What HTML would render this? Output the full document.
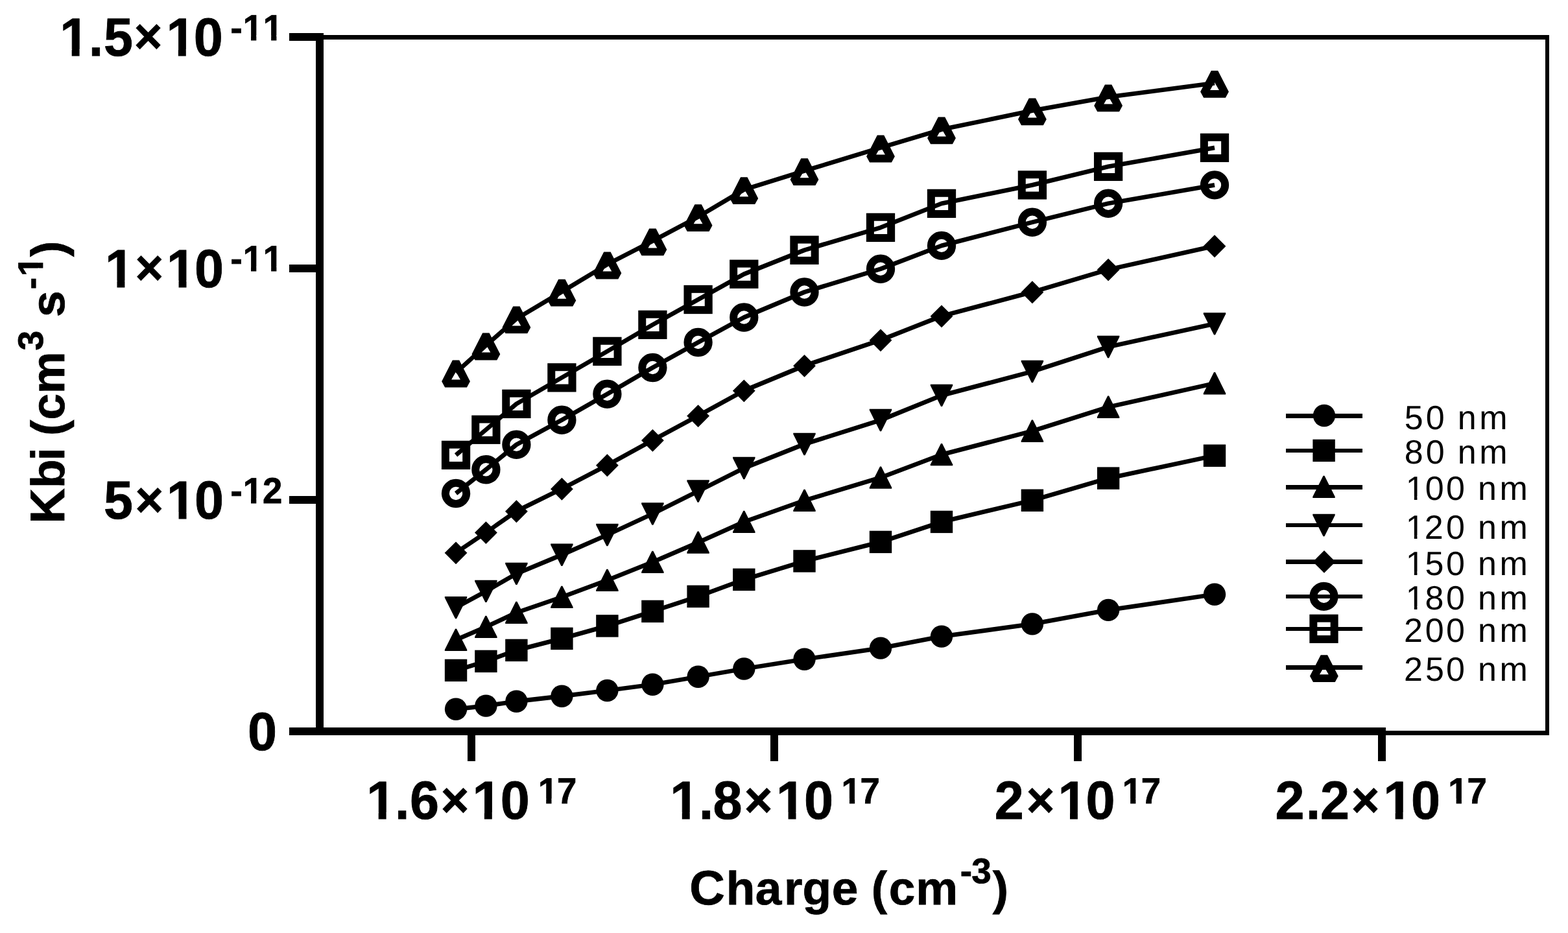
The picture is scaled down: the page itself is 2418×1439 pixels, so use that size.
<!DOCTYPE html>
<html lang="en">
<head>
<meta charset="utf-8">
<title>Kbi vs Charge</title>
<style>
html,body{margin:0;padding:0;background:#fff;}
body{width:2418px;height:1439px;overflow:hidden;}
svg{display:block;}
text{font-family:"Liberation Sans",sans-serif;fill:#000;font-kerning:none;white-space:pre;text-rendering:geometricPrecision;}
.b{font-weight:bold;stroke:#000;stroke-width:0.8;stroke-linejoin:miter;}
.ax{shape-rendering:crispEdges;}
.ln{fill:none;stroke:#000;stroke-width:6.8;stroke-linejoin:round;}
.o{fill:none;stroke:#000;stroke-width:12;stroke-linejoin:miter;}
</style>
</head>
<body>
<svg width="2418" height="1439" viewBox="0 0 2418 1439">
<rect width="2418" height="1439" fill="#fff"/>
<g class="ax" fill="#000">
<rect x="487" y="54" width="1902" height="7"/>
<rect x="2383" y="54" width="6" height="1080"/>
<rect x="487" y="1127" width="1902" height="7"/>
<rect x="487" y="51" width="12" height="1083"/>
<rect x="446" y="1122" width="1691" height="12"/>
<rect x="446" y="51" width="42" height="12"/>
<rect x="446" y="408" width="42" height="12"/>
<rect x="446" y="765" width="42" height="12"/>
<rect x="721" y="1133" width="12" height="41"/>
<rect x="1188" y="1133" width="12" height="41"/>
<rect x="1656" y="1133" width="12" height="41"/>
<rect x="2125" y="1133" width="12" height="41"/>
</g>
<g>
<polyline class="ln" points="703.05,1093.75 749.4,1088.6 796.4,1081.75 866.4,1073.75 936.4,1065 1006.4,1055.75 1076.6,1043.75 1147.3,1031.5 1240.5,1016.75 1358,999.6 1452,981.6 1591.9,962.4 1709.1,940.9 1873,916.75"/>
<circle cx="703.05" cy="1093.75" r="17.2"/>
<circle cx="749.4" cy="1088.6" r="17.2"/>
<circle cx="796.4" cy="1081.75" r="17.2"/>
<circle cx="866.4" cy="1073.75" r="17.2"/>
<circle cx="936.4" cy="1065" r="17.2"/>
<circle cx="1006.4" cy="1055.75" r="17.2"/>
<circle cx="1076.6" cy="1043.75" r="17.2"/>
<circle cx="1147.3" cy="1031.5" r="17.2"/>
<circle cx="1240.5" cy="1016.75" r="17.2"/>
<circle cx="1358" cy="999.6" r="17.2"/>
<circle cx="1452" cy="981.6" r="17.2"/>
<circle cx="1591.9" cy="962.4" r="17.2"/>
<circle cx="1709.1" cy="940.9" r="17.2"/>
<circle cx="1873" cy="916.75" r="17.2"/>
</g>
<g>
<polyline class="ln" points="703.05,1033.9 749.4,1019.9 796.4,1002.9 866.4,984.9 936.4,965.4 1006.4,942.9 1076.6,919.9 1147.3,893.9 1240.5,865.4 1358,835.9 1452,804.9 1591.9,771.75 1709.1,737.6 1873,702.75"/>
<rect x="685.85" y="1016.7" width="34.4" height="34.4"/>
<rect x="732.2" y="1002.7" width="34.4" height="34.4"/>
<rect x="779.2" y="985.7" width="34.4" height="34.4"/>
<rect x="849.2" y="967.7" width="34.4" height="34.4"/>
<rect x="919.2" y="948.2" width="34.4" height="34.4"/>
<rect x="989.2" y="925.7" width="34.4" height="34.4"/>
<rect x="1059.4" y="902.7" width="34.4" height="34.4"/>
<rect x="1130.1" y="876.7" width="34.4" height="34.4"/>
<rect x="1223.3" y="848.2" width="34.4" height="34.4"/>
<rect x="1340.8" y="818.7" width="34.4" height="34.4"/>
<rect x="1434.8" y="787.7" width="34.4" height="34.4"/>
<rect x="1574.7" y="754.55" width="34.4" height="34.4"/>
<rect x="1691.9" y="720.4" width="34.4" height="34.4"/>
<rect x="1855.8" y="685.55" width="34.4" height="34.4"/>
</g>
<g>
<polyline class="ln" points="703.05,986.9 749.4,966.9 796.4,944.9 866.4,920.9 936.4,894.9 1006.4,866.9 1076.6,836.6 1147.3,804.9 1240.5,771.9 1358,736.6 1452,701.1 1591.9,664.75 1709.1,627.75 1873,591.25"/>
<polygon points="702.05,969.7 704.05,969.7 720.25,1002.1 720.25,1004.1 685.85,1004.1 685.85,1002.1"/>
<polygon points="748.4,949.7 750.4,949.7 766.6,982.1 766.6,984.1 732.2,984.1 732.2,982.1"/>
<polygon points="795.4,927.7 797.4,927.7 813.6,960.1 813.6,962.1 779.2,962.1 779.2,960.1"/>
<polygon points="865.4,903.7 867.4,903.7 883.6,936.1 883.6,938.1 849.2,938.1 849.2,936.1"/>
<polygon points="935.4,877.7 937.4,877.7 953.6,910.1 953.6,912.1 919.2,912.1 919.2,910.1"/>
<polygon points="1005.4,849.7 1007.4,849.7 1023.6,882.1 1023.6,884.1 989.2,884.1 989.2,882.1"/>
<polygon points="1075.6,819.4 1077.6,819.4 1093.8,851.8 1093.8,853.8 1059.4,853.8 1059.4,851.8"/>
<polygon points="1146.3,787.7 1148.3,787.7 1164.5,820.1 1164.5,822.1 1130.1,822.1 1130.1,820.1"/>
<polygon points="1239.5,754.7 1241.5,754.7 1257.7,787.1 1257.7,789.1 1223.3,789.1 1223.3,787.1"/>
<polygon points="1357,719.4 1359,719.4 1375.2,751.8 1375.2,753.8 1340.8,753.8 1340.8,751.8"/>
<polygon points="1451,683.9 1453,683.9 1469.2,716.3 1469.2,718.3 1434.8,718.3 1434.8,716.3"/>
<polygon points="1590.9,647.55 1592.9,647.55 1609.1,679.95 1609.1,681.95 1574.7,681.95 1574.7,679.95"/>
<polygon points="1708.1,610.55 1710.1,610.55 1726.3,642.95 1726.3,644.95 1691.9,644.95 1691.9,642.95"/>
<polygon points="1872,574.05 1874,574.05 1890.2,606.45 1890.2,608.45 1855.8,608.45 1855.8,606.45"/>
</g>
<g>
<polyline class="ln" points="703.05,937.1 749.4,911.9 796.4,884.9 866.4,855.75 936.4,825 1006.4,792.5 1076.6,757.5 1147.3,722 1240.5,685 1358,648 1452,609.9 1591.9,573 1709.1,535 1873,499.4"/>
<polygon points="685.85,919.9 720.25,919.9 720.25,921.9 704.05,954.3 702.05,954.3 685.85,921.9"/>
<polygon points="732.2,894.7 766.6,894.7 766.6,896.7 750.4,929.1 748.4,929.1 732.2,896.7"/>
<polygon points="779.2,867.7 813.6,867.7 813.6,869.7 797.4,902.1 795.4,902.1 779.2,869.7"/>
<polygon points="849.2,838.55 883.6,838.55 883.6,840.55 867.4,872.95 865.4,872.95 849.2,840.55"/>
<polygon points="919.2,807.8 953.6,807.8 953.6,809.8 937.4,842.2 935.4,842.2 919.2,809.8"/>
<polygon points="989.2,775.3 1023.6,775.3 1023.6,777.3 1007.4,809.7 1005.4,809.7 989.2,777.3"/>
<polygon points="1059.4,740.3 1093.8,740.3 1093.8,742.3 1077.6,774.7 1075.6,774.7 1059.4,742.3"/>
<polygon points="1130.1,704.8 1164.5,704.8 1164.5,706.8 1148.3,739.2 1146.3,739.2 1130.1,706.8"/>
<polygon points="1223.3,667.8 1257.7,667.8 1257.7,669.8 1241.5,702.2 1239.5,702.2 1223.3,669.8"/>
<polygon points="1340.8,630.8 1375.2,630.8 1375.2,632.8 1359,665.2 1357,665.2 1340.8,632.8"/>
<polygon points="1434.8,592.7 1469.2,592.7 1469.2,594.7 1453,627.1 1451,627.1 1434.8,594.7"/>
<polygon points="1574.7,555.8 1609.1,555.8 1609.1,557.8 1592.9,590.2 1590.9,590.2 1574.7,557.8"/>
<polygon points="1691.9,517.8 1726.3,517.8 1726.3,519.8 1710.1,552.2 1708.1,552.2 1691.9,519.8"/>
<polygon points="1855.8,482.2 1890.2,482.2 1890.2,484.2 1874,516.6 1872,516.6 1855.8,484.2"/>
</g>
<g>
<polyline class="ln" points="703.05,852.5 749.4,821.25 796.4,788.4 866.4,753.9 936.4,717.4 1006.4,679 1076.6,641.25 1147.3,602.5 1240.5,564 1358,524.5 1452,487.5 1591.9,450.4 1709.1,415.75 1873,379.4"/>
<polygon points="703.05,835.45 720.45,852.85 703.05,870.25 685.65,852.85"/>
<polygon points="749.4,804.2 766.8,821.6 749.4,839 732,821.6"/>
<polygon points="796.4,771.35 813.8,788.75 796.4,806.15 779,788.75"/>
<polygon points="866.4,736.85 883.8,754.25 866.4,771.65 849,754.25"/>
<polygon points="936.4,700.35 953.8,717.75 936.4,735.15 919,717.75"/>
<polygon points="1006.4,661.95 1023.8,679.35 1006.4,696.75 989,679.35"/>
<polygon points="1076.6,624.2 1094,641.6 1076.6,659 1059.2,641.6"/>
<polygon points="1147.3,585.45 1164.7,602.85 1147.3,620.25 1129.9,602.85"/>
<polygon points="1240.5,546.95 1257.9,564.35 1240.5,581.75 1223.1,564.35"/>
<polygon points="1358,507.45 1375.4,524.85 1358,542.25 1340.6,524.85"/>
<polygon points="1452,470.45 1469.4,487.85 1452,505.25 1434.6,487.85"/>
<polygon points="1591.9,433.35 1609.3,450.75 1591.9,468.15 1574.5,450.75"/>
<polygon points="1709.1,398.7 1726.5,416.1 1709.1,433.5 1691.7,416.1"/>
<polygon points="1873,362.35 1890.4,379.75 1873,397.15 1855.6,379.75"/>
</g>
<g>
<polyline class="ln" points="703.05,761 749.4,724.25 796.4,685.75 866.4,647.75 936.4,607.75 1006.4,567 1076.6,528 1147.3,489.5 1240.5,450.5 1358,414.75 1452,378.9 1591.9,342.75 1709.1,313.75 1873,285.4"/>
<circle class="o" cx="703.05" cy="761" r="16.15"/>
<circle class="o" cx="749.4" cy="724.25" r="16.15"/>
<circle class="o" cx="796.4" cy="685.75" r="16.15"/>
<circle class="o" cx="866.4" cy="647.75" r="16.15"/>
<circle class="o" cx="936.4" cy="607.75" r="16.15"/>
<circle class="o" cx="1006.4" cy="567" r="16.15"/>
<circle class="o" cx="1076.6" cy="528" r="16.15"/>
<circle class="o" cx="1147.3" cy="489.5" r="16.15"/>
<circle class="o" cx="1240.5" cy="450.5" r="16.15"/>
<circle class="o" cx="1358" cy="414.75" r="16.15"/>
<circle class="o" cx="1452" cy="378.9" r="16.15"/>
<circle class="o" cx="1591.9" cy="342.75" r="16.15"/>
<circle class="o" cx="1709.1" cy="313.75" r="16.15"/>
<circle class="o" cx="1873" cy="285.4" r="16.15"/>
</g>
<g>
<polyline class="ln" points="703.05,701.9 749.4,662.75 796.4,622.9 866.4,582.4 936.4,541.9 1006.4,500.9 1076.6,462 1147.3,422.75 1240.5,385.75 1358,350.9 1452,313.9 1591.9,285.4 1709.1,256.9 1873,227.9"/>
<rect class="o" x="686.9" y="685.75" width="32.3" height="32.3"/>
<rect class="o" x="733.25" y="646.6" width="32.3" height="32.3"/>
<rect class="o" x="780.25" y="606.75" width="32.3" height="32.3"/>
<rect class="o" x="850.25" y="566.25" width="32.3" height="32.3"/>
<rect class="o" x="920.25" y="525.75" width="32.3" height="32.3"/>
<rect class="o" x="990.25" y="484.75" width="32.3" height="32.3"/>
<rect class="o" x="1060.45" y="445.85" width="32.3" height="32.3"/>
<rect class="o" x="1131.15" y="406.6" width="32.3" height="32.3"/>
<rect class="o" x="1224.35" y="369.6" width="32.3" height="32.3"/>
<rect class="o" x="1341.85" y="334.75" width="32.3" height="32.3"/>
<rect class="o" x="1435.85" y="297.75" width="32.3" height="32.3"/>
<rect class="o" x="1575.75" y="269.25" width="32.3" height="32.3"/>
<rect class="o" x="1692.95" y="240.75" width="32.3" height="32.3"/>
<rect class="o" x="1856.85" y="211.75" width="32.3" height="32.3"/>
</g>
<g>
<polyline class="ln" points="703.05,574.8 749.4,532.8 796.4,491.7 866.4,450 936.4,407.8 1006.4,371.7 1076.6,334.4 1147.3,292.5 1240.5,263.5 1358,227.8 1452,199.7 1591.9,170.7 1709.1,149.7 1873,128.2"/>
<path fill-rule="evenodd" d="M697.85 555.6 L708.25 555.6 L724.95 588.2 L719.95 597.4 L686.15 597.4 L681.15 588.2Z M703.05 573.6 L709.95 585.6 L696.15 585.6Z"/>
<path fill-rule="evenodd" d="M744.2 513.6 L754.6 513.6 L771.3 546.2 L766.3 555.4 L732.5 555.4 L727.5 546.2Z M749.4 531.6 L756.3 543.6 L742.5 543.6Z"/>
<path fill-rule="evenodd" d="M791.2 472.5 L801.6 472.5 L818.3 505.1 L813.3 514.3 L779.5 514.3 L774.5 505.1Z M796.4 490.5 L803.3 502.5 L789.5 502.5Z"/>
<path fill-rule="evenodd" d="M861.2 430.8 L871.6 430.8 L888.3 463.4 L883.3 472.6 L849.5 472.6 L844.5 463.4Z M866.4 448.8 L873.3 460.8 L859.5 460.8Z"/>
<path fill-rule="evenodd" d="M931.2 388.6 L941.6 388.6 L958.3 421.2 L953.3 430.4 L919.5 430.4 L914.5 421.2Z M936.4 406.6 L943.3 418.6 L929.5 418.6Z"/>
<path fill-rule="evenodd" d="M1001.2 352.5 L1011.6 352.5 L1028.3 385.1 L1023.3 394.3 L989.5 394.3 L984.5 385.1Z M1006.4 370.5 L1013.3 382.5 L999.5 382.5Z"/>
<path fill-rule="evenodd" d="M1071.4 315.2 L1081.8 315.2 L1098.5 347.8 L1093.5 357 L1059.7 357 L1054.7 347.8Z M1076.6 333.2 L1083.5 345.2 L1069.7 345.2Z"/>
<path fill-rule="evenodd" d="M1142.1 273.3 L1152.5 273.3 L1169.2 305.9 L1164.2 315.1 L1130.4 315.1 L1125.4 305.9Z M1147.3 291.3 L1154.2 303.3 L1140.4 303.3Z"/>
<path fill-rule="evenodd" d="M1235.3 244.3 L1245.7 244.3 L1262.4 276.9 L1257.4 286.1 L1223.6 286.1 L1218.6 276.9Z M1240.5 262.3 L1247.4 274.3 L1233.6 274.3Z"/>
<path fill-rule="evenodd" d="M1352.8 208.6 L1363.2 208.6 L1379.9 241.2 L1374.9 250.4 L1341.1 250.4 L1336.1 241.2Z M1358 226.6 L1364.9 238.6 L1351.1 238.6Z"/>
<path fill-rule="evenodd" d="M1446.8 180.5 L1457.2 180.5 L1473.9 213.1 L1468.9 222.3 L1435.1 222.3 L1430.1 213.1Z M1452 198.5 L1458.9 210.5 L1445.1 210.5Z"/>
<path fill-rule="evenodd" d="M1586.7 151.5 L1597.1 151.5 L1613.8 184.1 L1608.8 193.3 L1575 193.3 L1570 184.1Z M1591.9 169.5 L1598.8 181.5 L1585 181.5Z"/>
<path fill-rule="evenodd" d="M1703.9 130.5 L1714.3 130.5 L1731 163.1 L1726 172.3 L1692.2 172.3 L1687.2 163.1Z M1709.1 148.5 L1716 160.5 L1702.2 160.5Z"/>
<path fill-rule="evenodd" d="M1867.8 109 L1878.2 109 L1894.9 141.6 L1889.9 150.8 L1856.1 150.8 L1851.1 141.6Z M1873 127 L1879.9 139 L1866.1 139Z"/>
</g>
<g>
<rect class="ax" x="1983" y="638" width="118" height="7"/>
<circle cx="2042" cy="641" r="17.2"/>
<rect class="ax" x="1983" y="692" width="118" height="6"/>
<rect x="2024.4" y="677.7" width="34.4" height="34.4"/>
<rect class="ax" x="1983" y="748" width="118" height="7"/>
<polygon points="2040.5,733.65 2042.5,733.65 2058.7,766.05 2058.7,768.05 2024.3,768.05 2024.3,766.05"/>
<rect class="ax" x="1983" y="807" width="118" height="6"/>
<polygon points="2024.3,792.75 2058.7,792.75 2058.7,794.75 2042.5,827.15 2040.5,827.15 2024.3,794.75"/>
<rect class="ax" x="1983" y="863" width="118" height="7"/>
<polygon points="2042,849 2059.4,866.4 2042,883.8 2024.6,866.4"/>
<rect class="ax" x="1983" y="917" width="118" height="6"/>
<circle class="o" cx="2041.5" cy="919.9" r="16.15"/>
<rect class="ax" x="1983" y="967" width="118" height="6"/>
<rect class="o" x="2025.35" y="953.65" width="32.3" height="32.3"/>
<rect class="ax" x="1983" y="1026" width="118" height="7"/>
<path fill-rule="evenodd" d="M2036.7 1010.25 L2047.1 1010.25 L2063.8 1042.85 L2058.8 1052.05 L2025 1052.05 L2020 1042.85Z M2041.9 1028.25 L2048.8 1040.25 L2035 1040.25Z"/>
</g>
<g>
<text class="b" transform="scale(1 1.025)"><tspan font-size="81" x="92.18 136.69 159.91" y="83.71">1.5</tspan><tspan font-size="74.5" x="206.75" y="80.49">×</tspan><tspan font-size="81" x="256.38 298.84" y="83.71">10</tspan><tspan font-size="54.5" x="355.5 374.7 405.8" y="60.2">-11</tspan></text>
<text class="b" transform="scale(1 1.025)"><tspan font-size="81" x="161.98" y="432">1</tspan><tspan font-size="74.5" x="208.5" y="428.78">×</tspan><tspan font-size="81" x="257.08 299.94" y="432">10</tspan><tspan font-size="54.5" x="355.5 374.7 405.8" y="408.29">-11</tspan></text>
<text class="b" transform="scale(1 1.025)"><tspan font-size="81" x="160.11" y="780.68">5</tspan><tspan font-size="74.5" x="208.5" y="777.46">×</tspan><tspan font-size="81" x="257.08 299.94" y="780.68">10</tspan><tspan font-size="54.5" x="355.5 374.7 405.04" y="756.98">-12</tspan></text>
<text class="b" transform="scale(1 1.025)"><tspan font-size="81" x="565.18 609.09 632.06" y="1232.2">1.6</tspan><tspan font-size="74.5" x="679.65" y="1228.98">×</tspan><tspan font-size="81" x="728.38 771.69" y="1232.2">10</tspan><tspan font-size="54.5" x="829.9 859.12" y="1208.68">17</tspan></text>
<text class="b" transform="scale(1 1.025)"><tspan font-size="81" x="1033.28 1077.84 1099.49" y="1232.2">1.8</tspan><tspan font-size="74.5" x="1147.8" y="1228.98">×</tspan><tspan font-size="81" x="1197.08 1240.04" y="1232.2">10</tspan><tspan font-size="54.5" x="1297.6 1326.47" y="1208.68">17</tspan></text>
<text class="b" transform="scale(1 1.025)"><tspan font-size="81" x="1533.74" y="1232.2">2</tspan><tspan font-size="74.5" x="1582.75" y="1228.98">×</tspan><tspan font-size="81" x="1631.48 1674.54" y="1232.2">10</tspan><tspan font-size="54.5" x="1730.8 1759.72" y="1208.68">17</tspan></text>
<text class="b" transform="scale(1 1.025)"><tspan font-size="81" x="1966.59 2013.64 2035.94" y="1232.2">2.2</tspan><tspan font-size="74.5" x="2083.8" y="1228.98">×</tspan><tspan font-size="81" x="2133.18 2176.09" y="1232.2">10</tspan><tspan font-size="54.5" x="2233.3 2262.47" y="1208.68">17</tspan></text>
<text class="b" transform="scale(1 1.025)"><tspan font-size="81" x="381.99" y="1128.88">0</tspan></text>
<text transform="scale(1 1)"><tspan font-size="52" x="2165.69 2198.64 2227.56 2247.7 2281.23" y="662.2">50 nm</tspan></text>
<text transform="scale(1 1)"><tspan font-size="52" x="2165.64 2198.64 2227.56 2247.7 2281.23" y="715.1">80 nm</tspan></text>
<text transform="scale(1 1)"><tspan font-size="52" x="2167.73 2197.84 2229.94 2258.86 2279.1 2312.53" y="770.5">100 nm</tspan></text>
<text transform="scale(1 1)"><tspan font-size="52" x="2167.73 2196.74 2229.94 2258.86 2279.1 2312.53" y="830.6">120 nm</tspan></text>
<text transform="scale(1 1)"><tspan font-size="52" x="2167.73 2197.49 2229.94 2258.86 2279.1 2312.53" y="886.65">150 nm</tspan></text>
<text transform="scale(1 1)"><tspan font-size="52" x="2167.73 2197.44 2229.94 2258.86 2279.1 2312.53" y="939.85">180 nm</tspan></text>
<text transform="scale(1 1)"><tspan font-size="52" x="2165.09 2197.84 2229.94 2258.86 2279.1 2312.53" y="989.6">200 nm</tspan></text>
<text transform="scale(1 1)"><tspan font-size="52" x="2165.09 2197.89 2229.94 2258.86 2279.1 2312.53" y="1049.7">250 nm</tspan></text>
<text class="b" transform="scale(1 0.99)"><tspan font-size="75.5" x="1063.37" y="1409.6">C</tspan><tspan font-size="73" x="1119.67 1164.65 1208.94 1237.5 1282.67 1323.27 1343.76 1370.84 1412.15" y="1409.6">harge (cm</tspan><tspan font-size="55" x="1480.87 1498.27" y="1376.16">-3</tspan><tspan font-size="73" x="1530.63" y="1409.6">)</tspan></text>
<text class="b" transform="translate(0 0) rotate(-90) scale(1 0.99)"><tspan font-size="75.5" x="-807.64" y="100">K</tspan><tspan font-size="73" x="-753.05 -710.46 -690.17 -671.94 -647.51 -607.2" y="100">bi (cm</tspan><tspan font-size="55" x="-540.58" y="66.26">3</tspan><tspan font-size="73" x="-509.37 -489.09" y="100"> s</tspan><tspan font-size="55" x="-446.18 -425.98" y="66.26">-1</tspan><tspan font-size="73" x="-395.97" y="100">)</tspan></text>
</g>
<g fill="#fff">
<rect x="95.38" y="75.93" width="15.3" height="11.77"/>
<rect x="122.6" y="75.93" width="14.27" height="11.77"/>
<rect x="259.58" y="75.93" width="15.3" height="11.77"/>
<rect x="286.8" y="75.93" width="14.27" height="11.77"/>
<rect x="376.23" y="54.6" width="10.79" height="9"/>
<rect x="395.3" y="54.6" width="10.1" height="9"/>
<rect x="407.33" y="54.6" width="10.79" height="9"/>
<rect x="426.4" y="54.6" width="10.1" height="9"/>
<rect x="165.18" y="432.93" width="15.3" height="11.77"/>
<rect x="192.4" y="432.93" width="14.27" height="11.77"/>
<rect x="260.28" y="432.93" width="15.3" height="11.77"/>
<rect x="287.5" y="432.93" width="14.27" height="11.77"/>
<rect x="376.23" y="411.4" width="10.79" height="9"/>
<rect x="395.3" y="411.4" width="10.1" height="9"/>
<rect x="407.33" y="411.4" width="10.79" height="9"/>
<rect x="426.4" y="411.4" width="10.1" height="9"/>
<rect x="260.28" y="790.33" width="15.3" height="11.77"/>
<rect x="287.5" y="790.33" width="14.27" height="11.77"/>
<rect x="376.23" y="768.8" width="10.79" height="9"/>
<rect x="395.3" y="768.8" width="10.1" height="9"/>
<rect x="568.38" y="1253.13" width="15.3" height="11.77"/>
<rect x="595.6" y="1253.13" width="14.27" height="11.77"/>
<rect x="731.58" y="1253.13" width="15.3" height="11.77"/>
<rect x="758.8" y="1253.13" width="14.27" height="11.77"/>
<rect x="831.43" y="1231.8" width="10.79" height="9"/>
<rect x="850.5" y="1231.8" width="10.1" height="9"/>
<rect x="1036.48" y="1253.13" width="15.3" height="11.77"/>
<rect x="1063.7" y="1253.13" width="14.27" height="11.77"/>
<rect x="1200.28" y="1253.13" width="15.3" height="11.77"/>
<rect x="1227.5" y="1253.13" width="14.27" height="11.77"/>
<rect x="1299.13" y="1231.8" width="10.79" height="9"/>
<rect x="1318.2" y="1231.8" width="10.1" height="9"/>
<rect x="1634.68" y="1253.13" width="15.3" height="11.77"/>
<rect x="1661.9" y="1253.13" width="14.27" height="11.77"/>
<rect x="1732.33" y="1231.8" width="10.79" height="9"/>
<rect x="1751.4" y="1231.8" width="10.1" height="9"/>
<rect x="2136.38" y="1253.13" width="15.3" height="11.77"/>
<rect x="2163.6" y="1253.13" width="14.27" height="11.77"/>
<rect x="2234.83" y="1231.8" width="10.79" height="9"/>
<rect x="2253.9" y="1231.8" width="10.1" height="9"/>
<rect x="2170.19" y="765.62" width="10.62" height="6.38"/>
<rect x="2185.4" y="765.62" width="10.21" height="6.38"/>
<rect x="2170.19" y="825.72" width="10.62" height="6.38"/>
<rect x="2185.4" y="825.72" width="10.21" height="6.38"/>
<rect x="2170.19" y="881.77" width="10.62" height="6.38"/>
<rect x="2185.4" y="881.77" width="10.21" height="6.38"/>
<rect x="2170.19" y="934.97" width="10.62" height="6.38"/>
<rect x="2185.4" y="934.97" width="10.21" height="6.38"/>
<rect x="58.64" y="413.55" width="8.86" height="10.87"/>
<rect x="58.64" y="395.03" width="8.86" height="10.17"/>
</g>
</svg>
</body>
</html>
